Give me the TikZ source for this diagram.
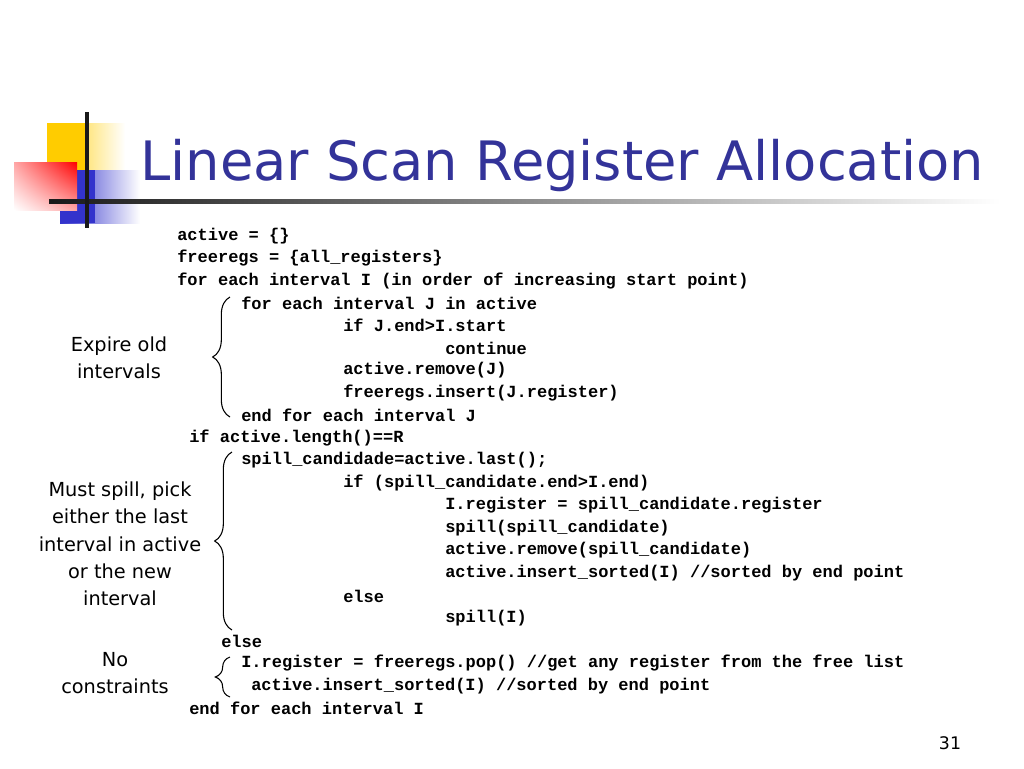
\documentclass[tikz,border=0pt]{standalone}
\usepackage{fontspec}
\setmainfont{DejaVu Sans}
\newfontfamily\codef{Liberation Mono}
\usetikzlibrary{decorations.pathreplacing,shadings}
\definecolor{titleblue}{RGB}{51,51,153}
\definecolor{lyellow}{RGB}{255,204,0}
\definecolor{lblue}{RGB}{51,51,204}
\begin{document}
\begin{tikzpicture}[x=0.75pt,y=-0.75pt,
  code/.style={anchor=west,inner sep=0,font=\codef\bfseries\fontsize{12.75}{14}\selectfont},
  lab/.style={align=center,inner sep=0,font=\fontsize{14.5}{20.5}\selectfont},
  br/.style={decorate,decoration={brace,amplitude=13pt},line width=0.8pt}]
\useasboundingbox (0,0) rectangle (1024,768);
% logo
\shade[left color=lyellow,right color=white] (47,123) rectangle (125,170);
\fill[lyellow] (47,123) rectangle (87,170);
\shade[left color=lblue,right color=white] (60,170) rectangle (140,223);
\fill[lblue] (60,170) rectangle (95,223);
\shade[lower left=white,upper right=red,lower right=red!35,upper left=red!35] (14,162) rectangle (77,210);
\shade[left color=black!90,right color=white] (49,199) rectangle (1000,203);
\draw[line width=3pt,black!90] (87,112) -- (87,228);
\node[anchor=base west,inner sep=0,text=titleblue] (title) at (140,180) {\resizebox{633pt}{!}{\fontsize{49}{50}\selectfont Linear Scan Register Allocation}};
% code
\node[code] (l1) at (177,236) {active = \{\}};
\node[code] (l2) at (177,258) {freeregs = \{all\_registers\}};
\node[code] (l3) at (177,281) {for each interval I (in order of increasing start point)};
\node[code] (l4) at (241,303) {for each interval J in active};
\node[code] (l5) at (343,325) {if J.end>I.start};
\node[code] (l6) at (445,348) {continue};
\node[code] (l7) at (343,370) {active.remove(J)};
\node[code] (l8) at (343,393) {freeregs.insert(J.register)};
\node[code] (l9) at (241,415) {end for each interval J};
\node[code] (l10) at (189,438) {if active.length()==R};
\node[code] (l11) at (241,460) {spill\_candidade=active.last();};
\node[code] (l12) at (343,483) {if (spill\_candidate.end>I.end)};
\node[code] (l13) at (445,505) {I.register = spill\_candidate.register};
\node[code] (l14) at (445,528) {spill(spill\_candidate)};
\node[code] (l15) at (445,550) {active.remove(spill\_candidate)};
\node[code] (l16) at (445,573) {active.insert\_sorted(I) //sorted by end point};
\node[code] (l17) at (343,596) {else};
\node[code] (l18) at (445,618) {spill(I)};
\node[code] (l19) at (221,641) {else};
\node[code] (l20) at (241,663) {I.register = freeregs.pop() //get any register from the free list};
\node[code] (l21) at (251,686) {active.insert\_sorted(I) //sorted by end point};
\node[code] (l22) at (189,708) {end for each interval I};
% labels
\node[lab] (e) at (119,358) {Expire old\\intervals};
\node[lab] (m) at (120,544) {Must spill, pick\\either the last\\interval in active\\or the new\\interval};
\node[lab] (n) at (115,673) {No\\constraints};
% braces
\coordinate (b1t) at (230,297); \coordinate (b1b) at (230,417);
\coordinate (b2t) at (232,452); \coordinate (b2b) at (232,630);
\coordinate (b3t) at (230,657); \coordinate (b3b) at (230,697);
\draw[br] (b1b) -- (b1t);
\draw[br] (b2b) -- (b2t);
\draw[br,decoration={amplitude=11pt}] (b3b) -- (b3t);
\node[inner sep=0,font=\fontsize{13}{14}\selectfont] (pg) at (950,743) {31};
\end{tikzpicture}
\end{document}
